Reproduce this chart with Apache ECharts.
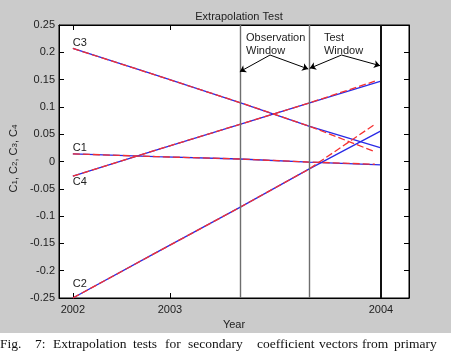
<!DOCTYPE html>
<html><head><meta charset="utf-8">
<script src="https://cdn.jsdelivr.net/npm/echarts@6/dist/echarts.min.js"></script>
<style>html,body{margin:0;padding:0;background:#fff}#c{width:474px;height:361px}</style>
</head><body><div id="c"></div>
<script>
// x unit: 2002 = 0, 2004 = 100 (axis is not uniform in calendar time)
const xTickPos = [0, 31.5, 100];
const xTickLabels = ['2002', '2003', '2004'];
const windowBounds = [54.2, 76.6, 100];

const c1Actual = [[0, 0.014], [27, 0.009], [54.2, 0.0046], [76.6, -0.001], [100, -0.006]];
const c1Extrap = [[0, 0.014], [27, 0.009], [54.2, 0.0046], [76.6, -0.001], [98, -0.005]];
const c2Actual = [[0, -0.25], [27, -0.167], [54.2, -0.084], [76.6, -0.014], [100, 0.056]];
const c2Extrap = [[0, -0.25], [27, -0.167], [54.2, -0.084], [76.6, -0.014], [98, 0.068]];
const c3Actual = [[0, 0.207], [27, 0.158], [54.2, 0.108], [76.6, 0.065], [100, 0.025]];
const c3Extrap = [[0, 0.207], [27, 0.158], [54.2, 0.108], [76.6, 0.065], [98, 0.018]];
const c4Actual = [[0, -0.027], [27, 0.021], [54.2, 0.068], [76.6, 0.107], [100, 0.147]];
const c4Extrap = [[0, -0.027], [27, 0.021], [54.2, 0.068], [76.6, 0.107], [98, 0.147]];

const captionWords = ['Fig.', '7:', 'Extrapolation', 'tests', 'for', 'secondary', 'coefficient', 'vectors', 'from', 'primary'];
const captionX = [0, 35, 53, 133, 165, 188, 257, 319, 362, 394];

const FONT = 'Liberation Sans';
const BLUE = '#2a2ae6', RED = '#f53030';

function labelPoint(pt, name, pos, dist) {
  return {
    coord: pt, symbol: 'circle', symbolSize: 0,
    label: { show: true, formatter: name, position: pos, distance: dist, offset: [7, 0],
      fontFamily: FONT, fontSize: 11, color: '#222' }
  };
}
function actual(name, data, lbl) {
  return { name: name, type: 'line', data: data, showSymbol: false, z: 3,
    lineStyle: { color: BLUE, width: 1.3 }, itemStyle: { color: BLUE },
    markPoint: { silent: true, animation: false, data: [lbl] } };
}
function extrap(name, data) {
  return { name: name, type: 'line', data: data, showSymbol: false, z: 4,
    lineStyle: { color: RED, width: 1.3, type: [7, 3] }, itemStyle: { color: RED } };
}

const chart = echarts.init(document.getElementById('c'), null, { renderer: 'canvas' });
const graphics = [{ type: 'rect', z: -10, shape: { x: 0, y: 0, width: 451, height: 333 }, style: { fill: '#cbcbcb' } }];
captionWords.forEach((w, i) => graphics.push({ type: 'text', x: captionX[i], y: 344, style: {
  text: w, font: '13.5px "Liberation Serif"', fill: '#111', textVerticalAlign: 'middle' } }));

chart.setOption({
  backgroundColor: '#fff',
  animation: false,
  graphic: graphics,
  title: { text: 'Extrapolation Test', left: 234, textAlign: 'center', top: 6,
    textStyle: { fontFamily: FONT, fontSize: 11, fontWeight: 'normal', color: '#222' } },
  grid: { left: 59, top: 25, right: 65, bottom: 63, show: true, backgroundColor: '#fff', borderColor: '#000', borderWidth: 1 },
  xAxis: [{
    type: 'value', min: -4.5, max: 109.1, position: 'bottom',
    name: 'Year', nameLocation: 'middle', nameGap: 17,
    nameTextStyle: { fontFamily: FONT, fontSize: 11, color: '#222' },
    axisLine: { show: true, onZero: false, lineStyle: { color: '#000' } },
    splitLine: { show: false },
    axisTick: { show: true, inside: true, length: 5, customValues: xTickPos, lineStyle: { color: '#000' } },
    axisLabel: { customValues: xTickPos, margin: 6, fontFamily: FONT, fontSize: 11, color: '#222',
      formatter: v => xTickLabels[xTickPos.indexOf(v)] || '' }
  }, {
    type: 'value', min: -4.5, max: 109.1, position: 'top',
    axisLine: { show: true, onZero: false, lineStyle: { color: '#000' } },
    splitLine: { show: false },
    axisTick: { show: true, inside: true, length: 5, customValues: xTickPos, lineStyle: { color: '#000' } },
    axisLabel: { show: false }
  }],
  yAxis: [{
    type: 'value', min: -0.25, max: 0.25, interval: 0.05, position: 'left',
    name: '{c|C}{s|1}{c|, C}{s|2}{c|, C}{s|3}{c|, C}{s|4}',
    nameLocation: 'middle', nameGap: 38, nameRotate: 90,
    nameTextStyle: { padding: [0, 0, 0, 6], rich: {
      c: { fontFamily: FONT, fontSize: 11, color: '#222', verticalAlign: 'bottom', lineHeight: 14 },
      s: { fontFamily: FONT, fontSize: 8, color: '#222', verticalAlign: 'bottom', lineHeight: 10 } } },
    axisLine: { show: true, onZero: false, lineStyle: { color: '#000' } },
    splitLine: { show: false },
    axisTick: { show: true, inside: true, length: 5, lineStyle: { color: '#000' } },
    axisLabel: { margin: 4, fontFamily: FONT, fontSize: 11, color: '#222',
      formatter: v => String(+v.toFixed(2)) }
  }, {
    type: 'value', min: -0.25, max: 0.25, interval: 0.05, position: 'right',
    axisLine: { show: true, onZero: false, lineStyle: { color: '#000' } },
    splitLine: { show: false },
    axisTick: { show: true, inside: true, length: 5, lineStyle: { color: '#000' } },
    axisLabel: { show: false }
  }],
  series: [
    actual('C1', c1Actual, labelPoint(c1Actual[0], 'C1', 'top', 0)),
    actual('C2', c2Actual, labelPoint(c2Actual[0], 'C2', 'top', 9)),
    actual('C3', c3Actual, labelPoint(c3Actual[0], 'C3', 'top', 0)),
    actual('C4', c4Actual, labelPoint(c4Actual[0], 'C4', 'bottom', 0)),
    extrap('C1 extrapolated', c1Extrap),
    extrap('C2 extrapolated', c2Extrap),
    extrap('C3 extrapolated', c3Extrap),
    extrap('C4 extrapolated', c4Extrap),
    {
      name: 'windows', type: 'line', data: [], z: 2,
      markLine: {
        silent: true, animation: false, symbol: ['none', 'none'], label: { show: false },
        lineStyle: { color: '#6e6e6e', width: 1.4, type: 'solid' },
        data: [
          { xAxis: windowBounds[0] },
          { xAxis: windowBounds[1] },
          { xAxis: windowBounds[2], lineStyle: { color: '#111', width: 2, type: 'solid' } }
        ]
      }
    },
    {
      name: 'annotations', type: 'line', data: [], z: 5,
      markLine: {
        silent: true, animation: false, symbol: ['none', 'arrow'], symbolSize: 6, label: { show: false },
        lineStyle: { color: '#000', width: 1, type: 'solid' },
        data: [
          [{ coord: [64.0, 0.195] }, { coord: [54.2, 0.1645] }],
          [{ coord: [64.0, 0.195] }, { coord: [76.4, 0.1694] }],
          [{ coord: [87.2, 0.195] }, { coord: [76.9, 0.1707] }],
          [{ coord: [87.2, 0.195] }, { coord: [99.7, 0.1755] }]
        ]
      },
      markPoint: {
        silent: true, animation: false, symbol: 'circle', symbolSize: 0,
        label: { show: true, position: [0, 0], align: 'left', verticalAlign: 'middle',
          fontFamily: FONT, fontSize: 11, lineHeight: 13, color: '#222' },
        data: [
          { coord: [56.2, 0.214], label: { formatter: 'Observation\nWindow' } },
          { coord: [81.5, 0.215], label: { formatter: 'Test\nWindow' } }
        ]
      }
    }
  ]
});
</script></body></html>
